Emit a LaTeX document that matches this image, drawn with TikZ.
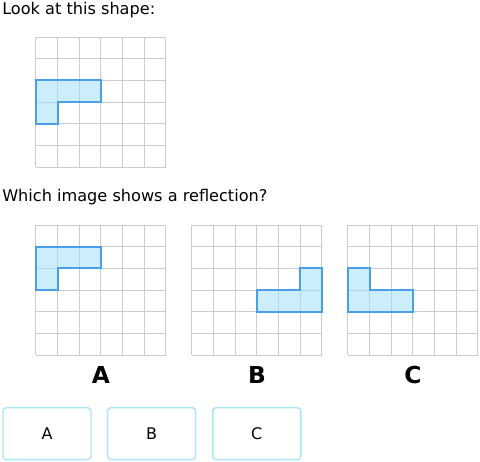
\documentclass[tikz,border=0pt]{standalone}
\usepackage{fontspec}
\setmainfont{DejaVu Sans}
\definecolor{gridgray}{HTML}{CCCCCC}
\definecolor{shapefill}{HTML}{9BDDF6}
\definecolor{shapeline}{HTML}{4A9FE8}
\definecolor{btnline}{HTML}{ADE6FA}
\tikzset{
  gridline/.style={draw=gridgray, line width=0.75pt},
  figshape/.style={fill=shapefill, fill opacity=0.5, draw=shapeline, draw opacity=1, line width=1.6pt, line join=miter},
  prompt/.style={anchor=base west, inner sep=0pt, font=\fontsize{12.1pt}{14pt}\selectfont},
  choicelabel/.style={anchor=base, inner sep=0pt, font=\fontsize{17.5pt}{20pt}\selectfont\bfseries},
  answerbtn/.style={draw=btnline, line width=1.1pt, rounded corners=2.5pt, minimum width=66pt, minimum height=39pt, inner sep=0pt, font=\fontsize{12pt}{14pt}\selectfont},
}
\newcommand{\drawmygrid}{%
  \foreach \i in {0,...,6} {
    \draw[gridline] (\i,0) -- (\i,6);
    \draw[gridline] (0,\i) -- (6,\i);
  }%
}
\begin{document}
\begin{tikzpicture}[x=0.75pt, y=-0.75pt]
\useasboundingbox (0,0) rectangle (480,462);
\fill[white] (0,0) rectangle (480,462);

\node[prompt] (q1) at (2,14) {Look at this shape:};

\begin{scope}[shift={(36,37)}, x=16.25pt, y=-16.25pt]
  \drawmygrid
  \draw[figshape] (0,2) -- (3,2) -- (3,3) -- (1,3) -- (1,4) -- (0,4) -- cycle;
\end{scope}

\node[prompt] (q2) at (2,201) {Which image shows a reflection?};

\begin{scope}[shift={(36,225)}, x=16.25pt, y=-16.25pt]
  \drawmygrid
  \draw[figshape] (0,1) -- (3,1) -- (3,2) -- (1,2) -- (1,3) -- (0,3) -- cycle;
\end{scope}

\begin{scope}[shift={(192,225)}, x=16.25pt, y=-16.25pt]
  \drawmygrid
  \draw[figshape] (5,2) -- (6,2) -- (6,4) -- (3,4) -- (3,3) -- (5,3) -- cycle;
\end{scope}

\begin{scope}[shift={(348,225)}, x=16.25pt, y=-16.25pt]
  \drawmygrid
  \draw[figshape] (0,2) -- (1,2) -- (1,3) -- (3,3) -- (3,4) -- (0,4) -- cycle;
\end{scope}

\node[choicelabel] (labA) at (101,383) {A};
\node[choicelabel] (labB) at (257,383) {B};
\node[choicelabel] (labC) at (413,383) {C};

\node[answerbtn] (btnA) at (47,433.7) {A};
\node[answerbtn] (btnB) at (151.7,433.7) {B};
\node[answerbtn] (btnC) at (256.8,433.7) {C};
\end{tikzpicture}
\end{document}
